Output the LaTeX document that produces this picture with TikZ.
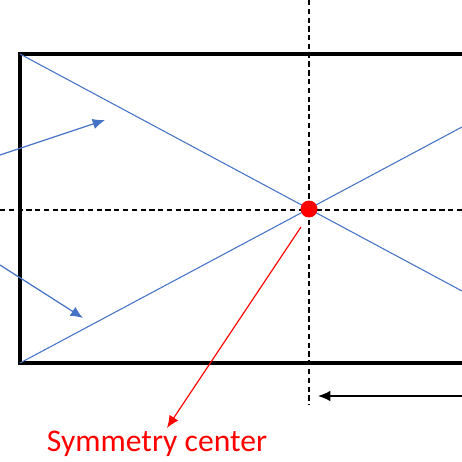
\documentclass[tikz,border=0pt]{standalone}
\usepackage{fontspec}
\setmainfont{Carlito}
\usetikzlibrary{arrows.meta}
\definecolor{officeblue}{RGB}{68,114,196}

\begin{document}
\begin{tikzpicture}[x=0.02cm, y=-0.02cm,
    frame/.style={line width=2.3pt, draw=black},
    ray/.style={draw=officeblue, line width=0.6pt},
    axis/.style={line width=0.8pt, dash pattern=on 3pt off 2pt},
    dot/.style={circle, fill=red, inner sep=0pt, minimum size=0.34cm},
    bluearrow/.style={draw=officeblue, line width=0.7pt, -{Latex[length=7pt,width=6pt]}},
    redarrow/.style={draw=red, line width=0.7pt, -{Latex[length=7pt,width=6pt]}},
    blackarrow/.style={draw=black, line width=0.8pt, -{Latex[length=7pt,width=6pt]}}
]
\useasboundingbox (0,0) rectangle (462,462);

% Corners of the box
\coordinate (tl) at (20,54);
\coordinate (bl) at (20,363);
\coordinate (tr) at (475,54);
\coordinate (br) at (475,363);

% Ray ends on the right side
\coordinate (rtop) at (462,127);
\coordinate (rbot) at (462,291);

% Box
\draw[frame] (tr) -- (tl) -- (bl) -- (br);

% Symmetry axes
\coordinate (hl) at (0,210);
\coordinate (hr) at (462,210);
\coordinate (vt) at (309,0);
\coordinate (vb) at (309,405);
\draw[axis] (hl) -- (hr);
\draw[axis] (vt) -- (vb);

% Rays through the center
\draw[ray] (tl) -- (rbot);
\draw[ray] (bl) -- (rtop);

% Center point
\node[dot] (center) at (309,209) {};

% Blue arrows
\coordinate (ua) at (0,155);
\coordinate (ub) at (105,120);
\coordinate (la) at (0,265);
\coordinate (lb) at (83,318);
\draw[bluearrow] (ua) -- (ub);
\draw[bluearrow] (la) -- (lb);

% Label and red arrow
\node[text=red, font=\fontsize{18}{21}\selectfont] (label) at (157,444) {Symmetry center};
\coordinate (rs) at (301,227);
\coordinate (re) at (167,428);
\draw[redarrow] (rs) -- (re);

% Black arrow at the bottom
\coordinate (ba) at (462,396);
\coordinate (bb) at (318,396);
\draw[blackarrow] (ba) -- (bb);

\end{tikzpicture}
\end{document}
